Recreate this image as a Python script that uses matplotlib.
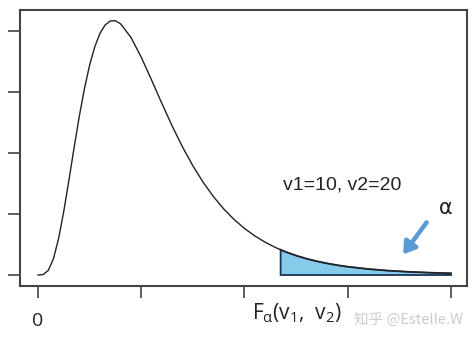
import matplotlib
matplotlib.use("Agg")
import matplotlib.pyplot as plt
import numpy as np

# Curve values (F density, v1=10, v2=20)
x_vals = [0.0, 0.05, 0.1, 0.15, 0.2, 0.25, 0.3, 0.35, 0.4, 0.45, 0.5, 0.55, 0.6,
          0.65, 0.7, 0.75, 0.8, 0.9, 1.0, 1.1, 1.2, 1.3, 1.4, 1.5, 1.6, 1.7, 1.8,
          1.9, 2.0, 2.1, 2.2, 2.3, 2.35, 2.4, 2.5, 2.6, 2.7, 2.8, 2.9, 3.0, 3.2,
          3.4, 3.6, 3.8, 4.0]
y_vals = [0.0, 0.0014, 0.0151, 0.0535, 0.1198, 0.2088, 0.3114, 0.4178, 0.5198,
          0.6111, 0.6879, 0.7483, 0.7920, 0.8198, 0.8331, 0.8337, 0.8236, 0.7794,
          0.7143, 0.6396, 0.5626, 0.4884, 0.4198, 0.3582, 0.3039, 0.2567, 0.2163,
          0.1819, 0.1527, 0.1282, 0.1076, 0.0903, 0.0827, 0.0758, 0.0637, 0.0536,
          0.0452, 0.0381, 0.0322, 0.0272, 0.0196, 0.0141, 0.0103, 0.0076, 0.0056]
f_alpha = 2.35
x_ticks = [0, 1, 2, 3, 4]
x_tick_labels = ["0", "", "", "", ""]
y_ticks = [0.0, 0.2, 0.4, 0.6, 0.8]

fig = plt.figure(figsize=(4.74, 3.39), dpi=100)
ax = fig.add_axes([20/474, 1-286/339, 447/474, 276/339])

xa = np.array(x_vals)
ya = np.array(y_vals)
mask = xa >= f_alpha
xs = xa[mask]
ys = ya[mask]
poly_x = np.concatenate([[xs[0]], xs, [xs[-1]], [xs[0]]])
poly_y = np.concatenate([[0], ys, [0], [0]])
ax.fill(poly_x, poly_y, facecolor="#86cbea", edgecolor="#1d3550", linewidth=1.3, zorder=2)
ax.plot(xa, ya, color="#222222", linewidth=1.0, zorder=3)

ax.set_xlim(-0.174, 4.155)
ax.set_ylim(-0.036, 0.869)
ax.set_xticks(x_ticks)
ax.set_xticklabels(x_tick_labels)
ax.set_yticks(y_ticks)
ax.set_yticklabels([])
for s in ax.spines.values():
    s.set_color("#444444")
    s.set_linewidth(1.5)
ax.tick_params(axis="both", direction="out", length=8.5, width=1.2, color="#444444")
ax.tick_params(axis="x", labelsize=14, pad=10, labelcolor="#222222")
for lab in ax.get_xticklabels():
    lab.set_fontfamily("Open Sans")

ax.text(2.07, -0.125, r"$\mathregular{F_{\alpha}(v_1,\ v_2)}$", fontsize=15,
        fontfamily="Open Sans", ha="left", va="center", color="#222222",
        transform=ax.transData, clip_on=False)
ax.text(2.37, 0.295, "v1=10, v2=20", fontsize=14, fontfamily="Liberation Sans",
        ha="left", va="center", color="#222222")
ax.text(3.95, 0.22, "α", fontsize=15, fontfamily="DejaVu Sans", ha="center",
        va="center", color="#222222")
ax.annotate("", xy=(3.52, 0.06), xytext=(3.78, 0.18),
            arrowprops=dict(arrowstyle="-|>,head_length=0.7,head_width=0.45",
                            color="#5b9bd5", lw=3.2))
fig.text(408/474, 1-320/339, "知乎 @Estelle.W", fontsize=10.5, color="#cccccc",
         family=["Noto Sans CJK SC", "DejaVu Sans"], ha="center", va="center")

fig.savefig("out.png", dpi=100)
